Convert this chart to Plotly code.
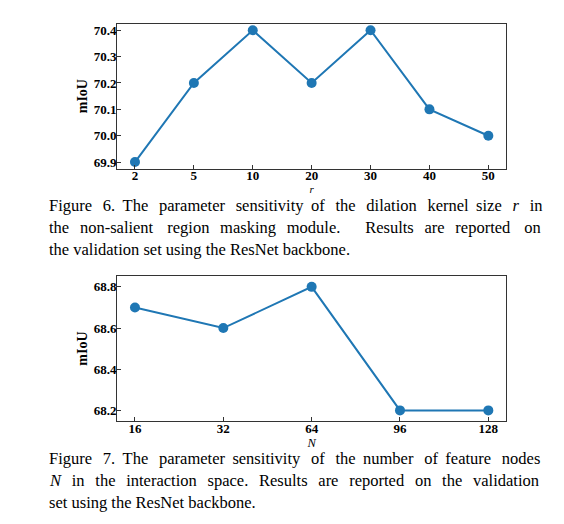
import plotly.graph_objects as go
from plotly.subplots import make_subplots

# values
kernel_sizes = ["2", "5", "10", "20", "30", "40", "50"]
miou_kernel = [69.9, 70.2, 70.4, 70.2, 70.4, 70.1, 70.0]

node_counts = ["16", "32", "64", "96", "128"]
miou_nodes = [68.7, 68.6, 68.8, 68.2, 68.2]

caption_6 = [
    "Figure 6. The parameter sensitivity of the dilation kernel size <i>r</i> in",
    "the non-salient region masking module.  Results are reported on",
    "the validation set using the ResNet backbone.",
]
caption_7 = [
    "Figure 7. The parameter sensitivity of the number of feature nodes",
    "<i>N</i> in the interaction space. Results are reported on the validation",
    "set using the ResNet backbone.",
]
# extra thin spaces per word gap to fake the justified lines
stretch_6 = [1.7, 2.3, 0]
stretch_7 = [1.6, 2.05, 0]

# page has an 8px body margin, so the figure is a bit smaller than the window
W, H = 556, 516
OFF = 8
blue = "#1f77b4"
serif = "Liberation Serif"


def px(x):
    return (x - OFF) / W


def py(y):
    return 1 - (y - OFF) / H


def justify(line, per_gap):
    if per_gap == 0:
        return line
    parts = line.split(" ")
    out = parts[0]
    acc = 0.0
    for i, w in enumerate(parts[1:]):
        target = round(per_gap * (i + 1))
        n = target - round(acc)
        acc = per_gap * (i + 1)
        out += " " + "\u2009" * n + w
    return out


fig = make_subplots(rows=2, cols=1)

fig.add_trace(go.Scatter(x=kernel_sizes, y=miou_kernel, mode="lines+markers",
                         line=dict(color=blue, width=2),
                         marker=dict(color=blue, size=10)), row=1, col=1)
fig.add_trace(go.Scatter(x=node_counts, y=miou_nodes, mode="lines+markers",
                         line=dict(color=blue, width=2),
                         marker=dict(color=blue, size=10)), row=2, col=1)

axis_style = dict(showgrid=False, zeroline=False, ticks="inside", ticklen=4,
                  tickwidth=1, tickcolor="#333", showline=True, linecolor="#333",
                  linewidth=1.2, mirror=True,
                  tickfont=dict(family=serif, size=13, color="black", weight="bold"))

fig.update_xaxes(**axis_style, ticklabelstandoff=-5)
fig.update_yaxes(**axis_style, ticklabelstandoff=-3)

ytitle = dict(text="<b>mIoU</b>", standoff=2,
              font=dict(family=serif, size=14, color="black"))

fig.update_layout(
    xaxis=dict(domain=[px(117.3), px(506)], range=[-0.3, 6.3],
               title=dict(text="<i>r</i>", standoff=0,
                          font=dict(family=serif, size=11, color="black"))),
    yaxis=dict(domain=[py(168.3), py(22.7)], range=[69.875, 70.425],
               tickvals=[69.9, 70.0, 70.1, 70.2, 70.3, 70.4], tickformat=".1f",
               title=ytitle),
    xaxis2=dict(domain=[px(117.3), px(506)], range=[-0.2, 4.2],
                title=dict(text="<i>N</i>", standoff=0,
                           font=dict(family=serif, size=12.5, color="black"))),
    yaxis2=dict(domain=[py(421.7), py(276)], range=[68.148, 68.853],
                tickvals=[68.2, 68.4, 68.6, 68.8], tickformat=".1f",
                title=ytitle),
    width=W, height=H, margin=dict(l=0, r=0, t=0, b=0),
    plot_bgcolor="white", paper_bgcolor="white", showlegend=False,
)

# captions below each plot
for lines, stretch, ys in [(caption_6, stretch_6, [205, 227, 249]),
                           (caption_7, stretch_7, [459, 481, 503])]:
    for text, s, y in zip(lines, stretch, ys):
        fig.add_annotation(text=justify(text, s), xref="paper", yref="paper",
                           x=px(47), y=py(y), xanchor="left", yanchor="middle",
                           showarrow=False,
                           font=dict(family=serif, size=16.5, color="black"))

fig.write_html("out.html")
